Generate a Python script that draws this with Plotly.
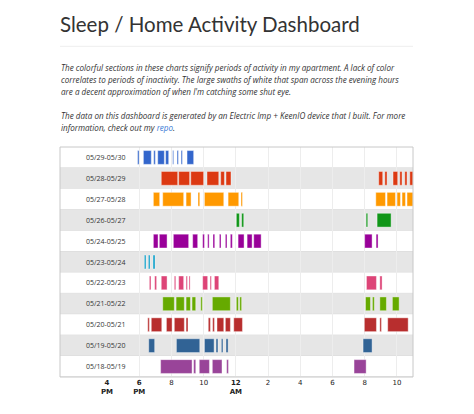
import plotly.graph_objects as go

# rows listed top to bottom
rows = ["05/29-05/30", "05/28-05/29", "05/27-05/28", "05/26-05/27", "05/24-05/25",
        "05/23-05/24", "05/22-05/23", "05/21-05/22", "05/20-05/21", "05/19-05/20", "05/18-05/19"]
colors = ["#3366cc", "#dc3912", "#ff9900", "#109618", "#990099",
          "#0099c6", "#dd4477", "#66aa00", "#b82e2e", "#316395", "#994499"]

# activity periods, hours since midnight of first day (24 = 12 AM)
activity = [
    [(17.9, 17.99), (18.26, 18.75), (18.9, 19.0), (19.15, 19.56), (19.64, 19.83), (20.08, 20.14),
     (20.35, 20.43), (20.6, 20.68), (20.97, 21.38)],
    [(19.37, 20.39), (20.45, 21.13), (21.2, 22.0), (22.21, 22.94), (23.06, 23.29), (23.39, 23.7),
     (32.87, 33.12), (33.25, 33.39), (33.76, 34.05), (34.18, 34.32), (34.49, 34.63), (34.8, 35.0)],
    [(18.88, 19.27), (19.46, 20.76), (20.91, 21.22), (21.65, 21.76), (22.05, 23.25), (23.52, 24.18),
     (24.32, 24.41), (32.69, 33.29), (33.39, 33.91), (34.01, 34.22), (34.32, 34.53), (34.63, 35.0)],
    [(24.03, 24.22), (24.36, 24.49), (32.09, 32.19), (32.77, 33.64)],
    [(18.88, 19.17), (19.25, 19.73), (20.12, 21.07), (21.32, 21.63), (21.94, 22.05), (22.25, 22.34),
     (22.58, 22.69), (22.98, 23.08), (23.35, 23.45), (23.66, 23.78), (24.14, 24.51), (24.7, 25.01),
     (25.11, 25.57), (32.0, 32.46), (32.71, 32.83)],
    [(18.32, 18.42), (18.57, 18.67), (18.86, 18.98)],
    [(18.63, 18.73), (18.96, 19.08), (19.37, 19.73), (20.18, 20.27), (20.45, 20.76), (20.91, 20.99),
     (21.09, 21.16), (21.94, 22.25), (22.4, 22.48), (22.67, 22.94), (32.11, 32.73), (32.94, 33.08)],
    [(19.46, 20.18), (20.29, 20.8), (20.91, 21.18), (21.28, 21.51), (21.82, 21.92), (22.54, 23.66),
     (24.03, 24.16), (24.24, 24.36), (32.05, 32.36), (32.48, 32.6), (32.94, 33.35), (33.72, 34.14)],
    [(18.53, 18.63), (18.75, 19.4), (19.69, 20.04), (20.18, 20.8), (20.91, 21.03), (22.29, 22.42),
     (22.56, 22.67), (22.83, 23.25), (23.35, 23.66), (23.87, 24.41), (31.98, 32.73), (32.94, 33.04),
     (33.43, 34.7)],
    [(18.59, 18.96), (20.31, 21.76), (22.05, 22.65), (22.77, 22.89), (23.1, 23.2), (23.39, 23.52),
     (31.9, 32.46)],
    [(19.33, 21.28), (21.38, 21.51), (21.73, 22.36), (22.54, 23.14), (23.43, 23.54), (31.34, 32.09)],
]

tick_hours = [16, 18, 20, 22, 24, 26, 28, 30, 32, 34]
tick_text = ["<b>4</b><br><b>PM</b>", "<b>6</b><br><b>PM</b>", "8", "10", "<b>12</b><br><b>AM</b>",
             "2", "4", "6", "8", "10"]

OFF = 8  # page body margin
W, H = 460, 400
L, R, T, B = 107 - OFF, 413 - OFF, 147 - OFF, 380 - OFF
n = len(rows)


def py(p):  # reference pixel y -> paper y
    return (B - (p - OFF)) / (B - T)


def px(p):  # reference pixel x -> paper x
    return ((p - OFF) - L) / (R - L)


fig = go.Figure()
for i, segs in enumerate(activity):
    fig.add_trace(go.Bar(
        orientation="h",
        base=[s for s, e in segs],
        x=[e - s for s, e in segs],
        y=[n - 1 - i] * len(segs),
        width=0.66,
        marker=dict(color=colors[i], line=dict(color="white", width=0.4)),
        showlegend=False,
        hoverinfo="skip",
    ))

shapes = []
annotations = []
for i, name in enumerate(rows):
    yv = n - 1 - i
    shapes.append(dict(type="rect", xref="paper", yref="y", x0=px(60), x1=1,
                       y0=yv - 0.5, y1=yv + 0.5, layer="below", line=dict(width=0),
                       fillcolor="#e6e6e6" if i % 2 else "white"))
    shapes.append(dict(type="line", xref="paper", yref="y", x0=px(60), x1=1,
                       y0=yv - 0.5, y1=yv - 0.5, layer="below", line=dict(color="#d8d8d8", width=1)))
    annotations.append(dict(text=name, xref="paper", yref="y", x=px(84), y=yv, showarrow=False,
                            font=dict(size=7, color="#333")))
shapes.append(dict(type="rect", xref="paper", yref="paper", x0=px(60), x1=1, y0=0, y1=1,
                   line=dict(color="#c8c8c8", width=1)))
shapes.append(dict(type="line", xref="paper", yref="paper", x0=px(60), x1=px(413), y0=py(45), y1=py(45),
                   line=dict(color="#eeeeee", width=1)))

annotations.append(dict(text="Sleep / Home Activity Dashboard", xref="paper", yref="paper",
                        x=px(58), y=py(22), xanchor="left", yanchor="middle", showarrow=False,
                        font=dict(family="Lato", size=20.5, color="#333")))
para1 = ["The colorful sections in these charts signify periods of activity in my apartment. A lack of color",
         "correlates to periods of inactivity. The large swaths of white that span across the evening hours",
         "are a decent approximation of when I'm catching some shut eye."]
para2 = ["The data on this dashboard is generated by an Electric Imp + KeenIO device that I built. For more",
         "information, check out my <span style='color:#3a7bd5'>repo</span>."]
for j, line in enumerate(para1):
    annotations.append(dict(text="<i>" + line + "</i>", xref="paper", yref="paper", x=px(59),
                            y=py(66 + 12.3 * j), xanchor="left", yanchor="middle", showarrow=False,
                            font=dict(family="Open Sans", size=8.1, color="#333")))
for j, line in enumerate(para2):
    annotations.append(dict(text="<i>" + line + "</i>", xref="paper", yref="paper", x=px(59),
                            y=py(115 + 12.3 * j), xanchor="left", yanchor="middle", showarrow=False,
                            font=dict(family="Open Sans", size=8.1, color="#333")))

fig.update_layout(
    width=W, height=H,
    margin=dict(l=L, r=W - R, t=T, b=H - B),
    paper_bgcolor="white", plot_bgcolor="rgba(0,0,0,0)",
    barmode="overlay",
    shapes=shapes, annotations=annotations,
    xaxis=dict(range=[16, 35], tickvals=tick_hours, ticktext=tick_text, showgrid=True,
               gridcolor="#ededed", zeroline=False, ticks="", showline=False,
               tickfont=dict(family="DejaVu Sans", size=7, color="#222")),
    yaxis=dict(range=[-0.5, n - 0.5], showticklabels=False, showgrid=False, zeroline=False),
)

fig.write_html("out.html")
